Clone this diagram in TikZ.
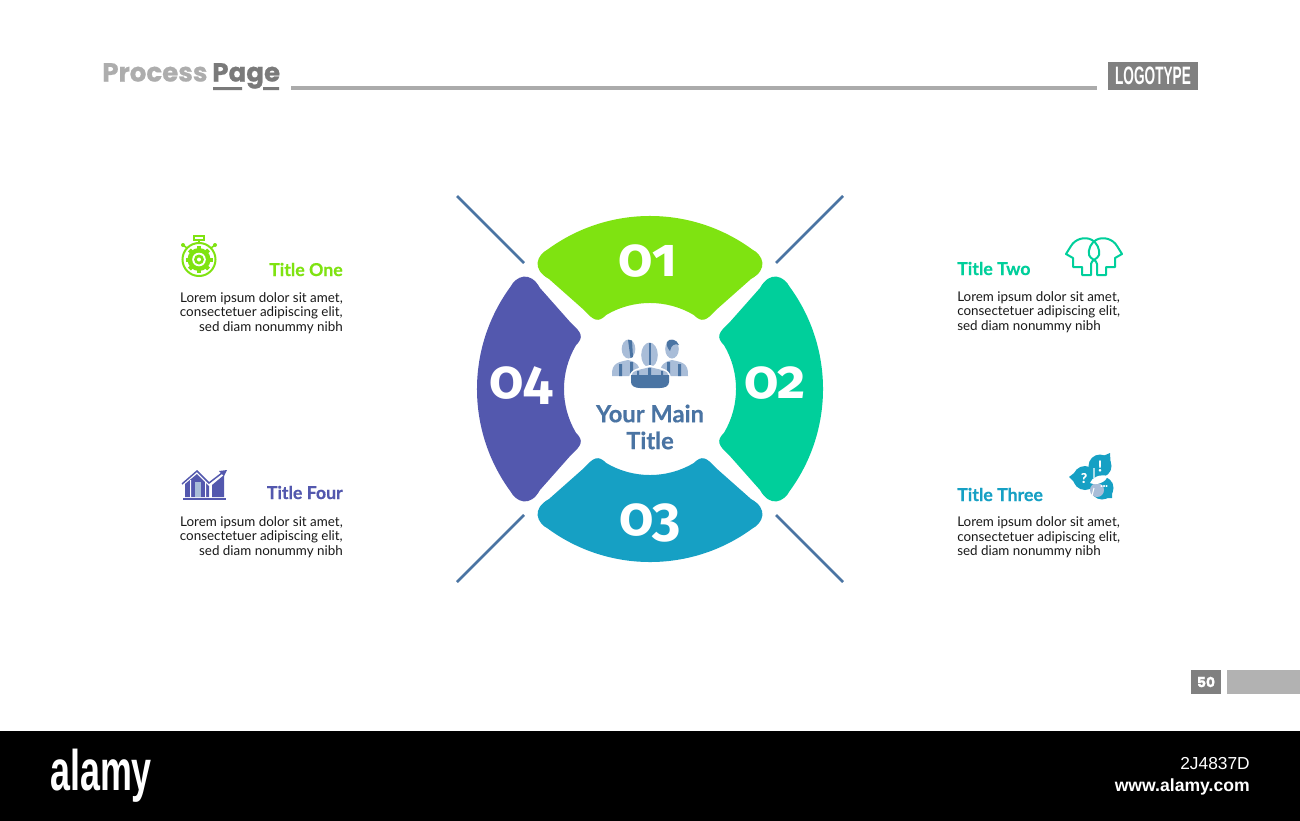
\documentclass[tikz,border=0pt]{standalone}
\usepackage{fontspec}
\setmainfont[BoldFeatures={FakeBold=0.5}]{Lato}
\newfontfamily\numf[Numbers=OldStyle]{Fira Sans}
\newfontfamily\popf[BoldFeatures={FakeBold=0.7}]{Poppins}
\newfontfamily\libf{Liberation Sans}
\definecolor{cgreen}{HTML}{7FE311}
\definecolor{cteal}{HTML}{00CF9B}
\definecolor{cblue}{HTML}{16A0C4}
\definecolor{cindigo}{HTML}{5358AE}
\definecolor{csteel}{HTML}{4A74A3}
\definecolor{clight}{HTML}{A9BDD8}
\newcommand{\fs}[1]{\fontsize{#1}{#1}\selectfont}
\newcommand{\segshape}[2]{%
 \begin{scope}[shift={(650,389)},rotate=#1,y=.75pt]
  \fill[#2] (-102,139.8) arc[start angle=126.1,end angle=53.9,radius=173]
   .. controls (113,134) and (119,120) .. (101,110) -- (66,79)
   .. controls (56,68) and (52,66) .. (43.5,74.2)
   arc[start angle=59.6,end angle=120.4,radius=86]
   .. controls (-52,66) and (-56,68) .. (-66,79) -- (-101,110)
   .. controls (-119,120) and (-113,134) .. (-102,139.8) -- cycle;
 \end{scope}}
\tikzset{
 x=.75pt,y=-.75pt,
 bodytext/.style={inner sep=0pt,font=\fs{10.05},text=black!90},
 bodyl/.style={bodytext,align=left,anchor=west},
 bodyr/.style={bodytext,align=right,anchor=east},
 titlel/.style={inner sep=0pt,anchor=west,font=\bfseries\fs{13.3}},
 titler/.style={inner sep=0pt,anchor=east,font=\bfseries\fs{13.3}},
 segnum/.style={inner sep=0pt,text=white,font=\numf\bfseries\fs{41}},
 diag/.style={draw=csteel,line width=2pt},
}
\begin{document}
\begin{tikzpicture}
\useasboundingbox (0,0) rectangle (1300,821);
\fill[white] (0,0) rectangle (1300,821);
% header
\node[inner sep=0pt,anchor=base west,text=black!32,font=\popf\bfseries\fs{19.6}] (hproc) at (102,81.5) {Process};
\node[inner sep=0pt,anchor=base west,text=black!52,font=\popf\bfseries\fs{19.6}] (hpage) at (212,81.5) {Page};
\fill[black!52] (213,87) rectangle (242,90) (263,87) rectangle (279,90);
\fill[black!33] (291,86) rectangle (1097,89.5);
\node[fill=black!50,text=white,inner sep=0pt,minimum width=67.5pt,minimum height=20.5pt,font=\libf\bfseries\fs{14}] (logo) at (1153,76) {\scalebox{.73}[1.35]{LOGOTYPE}};
% diagonals
\coordinate (d1a) at (457,196); \coordinate (d1b) at (524,263);
\coordinate (d2a) at (843,196); \coordinate (d2b) at (776,263);
\coordinate (d3a) at (843,582); \coordinate (d3b) at (776,515);
\coordinate (d4a) at (457,582); \coordinate (d4b) at (524,515);
\draw[diag] (d1a) -- (d1b);
\draw[diag] (d2a) -- (d2b);
\draw[diag] (d3a) -- (d3b);
\draw[diag] (d4a) -- (d4b);
% segments
\segshape{0}{cgreen}
\segshape{-90}{cteal}
\segshape{180}{cblue}
\segshape{90}{cindigo}
\node[segnum] (n1) at (648,261) {01};
\node[segnum] (n2) at (775,383) {02};
\node[segnum] (n3) at (650,523) {03};
\node[segnum] (n4) at (521,386) {04};
% centre
\begin{scope}
 \fill[clight] (612,376) .. controls (611,362) and (620,362) .. (628,360) .. controls (636,362) and (640,364) .. (640,376) -- cycle;
 \fill[clight] (688,376) .. controls (689,362) and (680,362) .. (672,360) .. controls (664,362) and (660,364) .. (660,376) -- cycle;
 \fill[clight] (628.5,349) ellipse[x radius=6.8,y radius=9.5];
 \fill[clight] (672,349) ellipse[x radius=6.8,y radius=9.5];
 \fill[csteel] (628,339.7) -- (632,340.5) -- (633,357) -- (630.5,358) -- cycle (619,364) rectangle (622,376) (630,362) rectangle (633,376);
 \fill[csteel] (667,342) .. controls (669,338) and (677,339) .. (679,345) .. controls (675,343) and (671,345) .. (670,351) .. controls (668,349) and (666,345) .. (667,342) -- cycle (678,364) rectangle (681,376) (667,362) rectangle (670,376);
 \fill[white] (649.5,355) ellipse[x radius=10,y radius=14.5];
 \fill[clight] (649.5,355) ellipse[x radius=8.3,y radius=12.5];
 \fill[csteel] (649,343) rectangle (651,367);
 \fill[white] (629,389) -- (629,377) .. controls (631,368) and (640,368) .. (650,365) .. controls (660,368) and (669,368) .. (671,377) -- (671,389) -- cycle;
 \fill[clight] (631,376) .. controls (632,370) and (640,370) .. (650,367) .. controls (660,370) and (668,370) .. (669,376) -- cycle;
 \fill[csteel] (631,375) -- (669,375) -- (669,382) .. controls (669,386) and (665,388) .. (660,388) -- (640,388) .. controls (635,388) and (631,386) .. (631,382) -- cycle;
 \fill[csteel] (648,368) rectangle (651,376) (637,371) rectangle (639,376) (661,371) rectangle (663,376);
\end{scope}
\node[inner sep=0pt,align=center,text=csteel,font=\bfseries\fs{17.8}] (main) at (650,427) {Your Main\\[2.4pt]Title};
% title one
\node[titler,text=cgreen] (t1) at (343,269.5) {Title One};
\node[bodyr] (b1) at (343,313) {Lorem ipsum dolor sit amet,\\[.95pt]consectetuer adipiscing elit,\\[.95pt]sed diam nonummy nibh};
\begin{scope}
 \draw[cgreen,line width=1.5pt] (199,259.5) circle[radius=16.5];
 \fill[cgreen] (199,259.5) circle[radius=11.5];
 \fill[white] (199,259.5) circle[radius=6.8];
 \fill[cgreen] (199,259.5) circle[radius=5];
 \fill[white] (199,259.5) circle[radius=2];
 \foreach \a in {0,45,...,315}{\fill[cgreen,shift={(199,259.5)},rotate=\a] (-2,-13.5) rectangle (2,-10);}
 \draw[cgreen,line width=1.2pt] (194,236) rectangle (204,240) (199,240) -- (199,243);
 \draw[cgreen,line width=1.2pt] (183,245) -- (187,248) (215,245) -- (211,248);
 \fill[cgreen] (183,245) circle[radius=2] (215,245) circle[radius=2];
\end{scope}
% title two
\node[titlel,text=cteal] (t2) at (957,268.5) {Title Two};
\node[bodyl] (b2) at (957,312) {Lorem ipsum dolor sit amet,\\[.95pt]consectetuer adipiscing elit,\\[.95pt]sed diam nonummy nibh};
\foreach \s in {1,-1}{
 \begin{scope}[shift={(1094,0)},xscale=\s]
  \draw[cteal,line width=1.5pt,line join=round] (-12,275) -- (-12,267) -- (-21,267) -- (-21,258) -- (-28,254) -- (-23,246) .. controls (-19,239) and (-9,236) .. (-2,240) .. controls (3,243) and (6,249) .. (5,255) .. controls (4,259) and (-3,260) .. (-3,264) -- (-3,275) -- cycle;
 \end{scope}}
% title three
\node[titlel,text=cblue] (t3) at (957,494.5) {Title Three};
\node[bodyl] (b3) at (957,537.5) {Lorem ipsum dolor sit amet,\\[.95pt]consectetuer adipiscing elit,\\[.95pt]sed diam nonummy nibh};
\fill[cblue] (1100,466) circle[radius=11.5];
\fill[cblue] (1103,456) -- (1110,453) -- (1111,470) -- cycle;
\fill[cblue] (1085,478) circle[radius=12];
\fill[cblue] (1078,470) -- (1069,477) -- (1080,488) -- cycle;
\fill[cblue] (1102,488) circle[radius=11.5];
\fill[cblue] (1112,482) -- (1112,498) -- (1104,498) -- cycle;
\fill[clight] (1097,490) circle[radius=7];
\fill[white] (1090,483) .. controls (1092,477) and (1100,474) .. (1108,476) .. controls (1106,482) and (1097,486) .. (1090,483) -- cycle;
\draw[white,line width=.8pt] (1094,468) -- (1094,478) (1094,488) -- (1092,496);
\node[inner sep=0pt,text=white,font=\bfseries\fs{11}] (q1) at (1100,466) {!};
\node[inner sep=0pt,text=white,font=\bfseries\fs{10}] (q2) at (1084,478) {?};
\node[inner sep=0pt,text=white,font=\bfseries\fs{8}] (q3) at (1104,486) {...};
% title four
\node[titler,text=cindigo] (t4) at (343,492.5) {Title Four};
\node[bodyr] (b4) at (343,537) {Lorem ipsum dolor sit amet,\\[.95pt]consectetuer adipiscing elit,\\[.95pt]sed diam nonummy nibh};
\begin{scope}
 \fill[cindigo] (185,497) -- (185,484) -- (197,474) -- (209,486) -- (209,497) -- cycle;
 \fill[cindigo] (212,497) -- (212,485) -- (224,475) -- (224,497) -- cycle;
 \fill[white] (190,497) rectangle (191,480) (205,497) rectangle (206,480);
 \fill[clight] (195,497) rectangle (201,482);
 \draw[cindigo,line width=1.1pt] (182,484) -- (197,471) -- (209,483) -- (222,473);
 \fill[cindigo] (227,470) -- (219,471) -- (224,476) -- cycle;
 \fill[cindigo] (183,498) rectangle (226,500);
\end{scope}
% page number
\node[fill=black!50,text=white,inner sep=0pt,minimum width=22.5pt,minimum height=18pt,font=\popf\bfseries\fs{10.5}] (pg) at (1206,682) {50};
\fill[black!30] (1227,670) rectangle (1300,694);
% footer
\fill[black] (0,731) rectangle (1300,821);
\node[inner sep=0pt,text=white,font=\libf\bfseries\fs{39}] (al) at (101,776) {\scalebox{.69}[1.1]{alamy}};
\node[inner sep=0pt,anchor=east,text=white,font=\libf\fs{13}] (id) at (1250,764) {2J4837D};
\node[inner sep=0pt,anchor=east,text=white,font=\libf\bfseries\fs{13.2}] (web) at (1250,787) {www.alamy.com};
\end{tikzpicture}
\end{document}
